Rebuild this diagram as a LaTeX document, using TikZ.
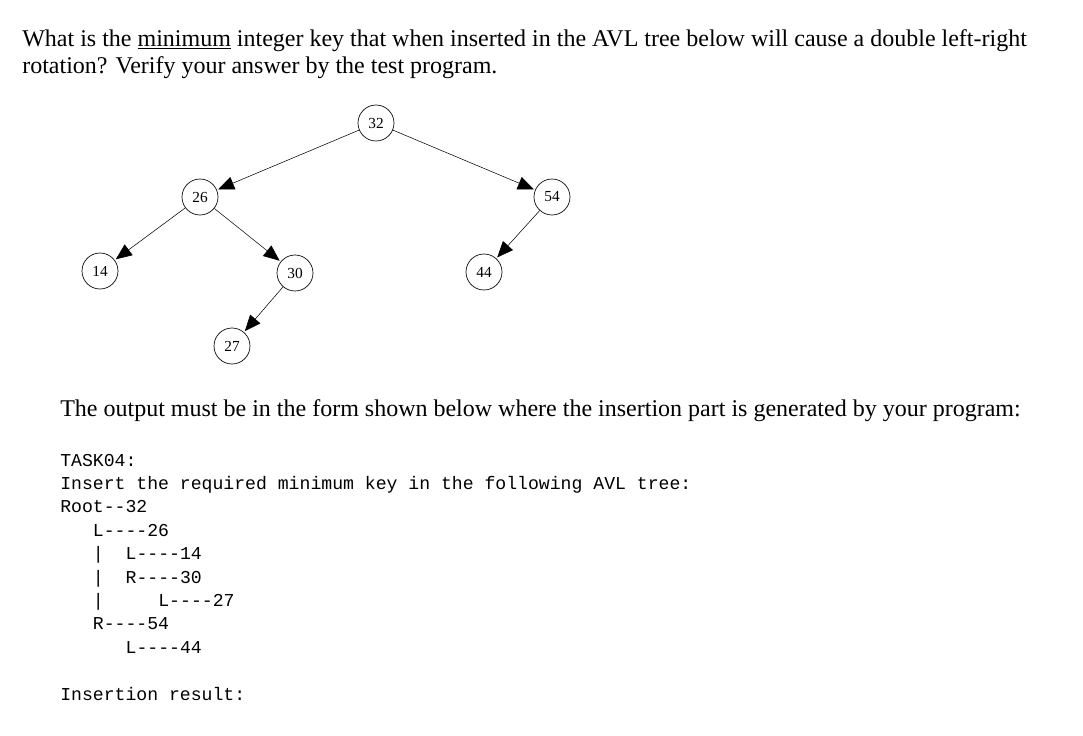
\documentclass[tikz,border=0pt]{standalone}
\usepackage{fontspec}
\setmainfont{Liberation Serif}
\setmonofont{Liberation Mono}
\usetikzlibrary{arrows.meta}
\begin{document}
\begin{tikzpicture}[x=0.75pt,y=-0.75pt,
  tn/.style={circle,draw,line width=0.5pt,minimum size=27pt,inner sep=0pt,font=\fontsize{11.5}{13}\selectfont},
  edge/.style={line width=0.4pt,-{Triangle[length=12pt,width=10pt]},shorten >=1pt},
  txt/.style={anchor=base west,inner sep=0pt,font=\fontsize{18}{21}\selectfont},
  mono/.style={anchor=base west,inner sep=0pt,font=\ttfamily\fontsize{13.6}{16}\selectfont}]
\useasboundingbox[fill=white] (0,0) rectangle (1083,736);
\node[txt] (q1) at (22,46) {What is the \underline{minimum} integer key that when inserted in the AVL tree below will cause a double left-right};
\node[txt] (q2) at (22,73) {rotation? Verify your answer by the test program.};
\node[tn] (n32) at (376,123) {32};
\node[tn] (n26) at (200,197) {26};
\node[tn] (n54) at (552,197) {54};
\node[tn] (n14) at (100,271) {14};
\node[tn] (n30) at (295,273) {30};
\node[tn] (n44) at (484,272) {44};
\node[tn] (n27) at (232,346) {27};
\draw[edge] (n32) -- (n26);
\draw[edge] (n32) -- (n54);
\draw[edge] (n26) -- (n14);
\draw[edge] (n26) -- (n30);
\draw[edge] (n54) -- (n44);
\draw[edge] (n30) -- (n27);
\node[txt] (o1) at (60,416) {The output must be in the form shown below where the insertion part is generated by your program:};
\node[mono] (m1) at (60,466) {TASK04:};
\node[mono] (m2) at (60,489) {Insert the required minimum key in the following AVL tree:};
\node[mono] (m3) at (60,512) {Root--32};
\node[mono] (m4) at (92.7,536) {L----26};
\node[mono] (m5a) at (92.7,559) {|};
\node[mono] (m5) at (125.4,559) {L----14};
\node[mono] (m6a) at (92.7,583) {|};
\node[mono] (m6) at (125.4,583) {R----30};
\node[mono] (m7a) at (92.7,606) {|};
\node[mono] (m7) at (158.1,606) {L----27};
\node[mono] (m8) at (92.7,629) {R----54};
\node[mono] (m9) at (125.4,653) {L----44};
\node[mono] (m10) at (60,700) {Insertion result:};
\end{tikzpicture}
\end{document}
